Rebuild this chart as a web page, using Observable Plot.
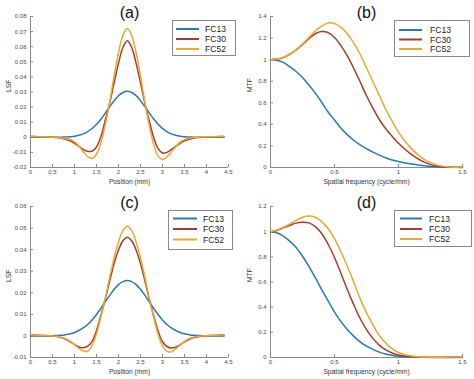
<!DOCTYPE html>
<html><head><meta charset="utf-8">
<script src="https://cdn.jsdelivr.net/npm/d3@7"></script>
<script src="https://cdn.jsdelivr.net/npm/@observablehq/plot@0.6"></script>
<style>
body{margin:0;background:#fff;}
#root{position:relative;width:474px;height:379px;overflow:hidden;font-family:"Liberation Sans",Arial,sans-serif;}
.panel{position:absolute;}
.legend{position:absolute;}
</style></head><body><div id="root"></div>
<script>
const series = ["FC13", "FC30", "FC52"];
const colors = ["#2a78b2", "#a93a2c", "#e9a92e"];
const titles = ["(a)", "(b)", "(c)", "(d)"];
const xLabelLSF = "Position (mm)";
const xLabelMTF = "Spatial frequency (cycle/mm)";
const yLabelLSF = "LSF";
const yLabelMTF = "MTF";

const xTicksLSF = [0, 0.5, 1, 1.5, 2, 2.5, 3, 3.5, 4, 4.5];
const xTicksMTF = [0, 0.5, 1, 1.5];
const yTicksA = [-0.02, -0.01, 0, 0.01, 0.02, 0.03, 0.04, 0.05, 0.06, 0.07, 0.08];
const yTicksB = [0, 0.2, 0.4, 0.6, 0.8, 1, 1.2, 1.4];
const yTicksC = [-0.01, 0, 0.01, 0.02, 0.03, 0.04, 0.05, 0.06];
const yTicksD = [0, 0.2, 0.4, 0.6, 0.8, 1, 1.2];

const position = [0,0.1,0.2,0.3,0.4,0.5,0.6,0.7,0.8,0.9,1,1.1,1.2,1.3,1.4,1.5,1.6,1.7,1.8,1.9,2,2.1,2.2,2.3,2.4,2.5,2.6,2.7,2.8,2.9,3,3.1,3.2,3.3,3.4,3.5,3.6,3.7,3.8,3.9,4,4.1,4.2,4.3,4.4];

const lsfA_FC13 = [0,0,0,0,0,0,0,0.0001,0.0002,0.0004,0.0007,0.0013,0.0023,0.0038,0.0058,0.0086,0.0120,0.0160,0.0202,0.0242,0.0275,0.0297,0.0305,
  0.0297,0.0276,0.0243,0.0203,0.0161,0.0121,0.0087,0.0059,0.0038,0.0023,0.0013,0.0007,0.0004,0.0002,0.0001,0,0,0,0,0,0,0];
const lsfA_FC30 = [0.0005,0.0005,0.0004,0.0003,0.0002,0,-0.0002,-0.0006,-0.0013,-0.0024,-0.0040,-0.0060,-0.0080,-0.0093,-0.0092,-0.0064,0.0003,0.0115,0.0228,0.0360,0.0490,0.0595,0.0640,
  0.0595,0.0490,0.0360,0.0225,0.0108,-0.0002,-0.0075,-0.0104,-0.0100,-0.0082,-0.0060,-0.0040,-0.0024,-0.0013,-0.0006,-0.0002,0,0.0002,0.0003,0.0004,0.0005,0.0005];
const lsfA_FC52 = [0.0005,0.0005,0.0004,0.0003,0.0002,0.0001,-0.0001,-0.0004,-0.0008,-0.0014,-0.0030,-0.0058,-0.0095,-0.0128,-0.0140,-0.0112,-0.0040,0.0085,0.0235,0.0405,0.0560,0.0675,0.0720,
  0.0675,0.0560,0.0405,0.0232,0.0078,-0.0048,-0.0125,-0.0147,-0.0130,-0.0098,-0.0062,-0.0032,-0.0015,-0.0006,-0.0002,0.0001,0.0002,0.0003,0.0004,0.0004,0.0005,0.0005];

const lsfC_FC13 = [0,0,0,0,0,0.0001,0.0002,0.0003,0.0006,0.0010,0.0016,0.0025,0.0037,0.0053,0.0074,0.0099,0.0128,0.0158,0.0188,0.0216,0.0238,0.0252,0.0257,
  0.0252,0.0238,0.0216,0.0188,0.0158,0.0128,0.0099,0.0074,0.0053,0.0037,0.0025,0.0016,0.0010,0.0006,0.0003,0.0002,0.0001,0,0,0,0,0];
const lsfC_FC30 = [0.0004,0.0004,0.0003,0.0002,0.0001,0,-0.0003,-0.0008,-0.0016,-0.0027,-0.0040,-0.0051,-0.0055,-0.0047,-0.0025,0.0025,0.0095,0.0172,0.0255,0.0335,0.0398,0.0441,0.0458,
  0.0441,0.0398,0.0335,0.0255,0.0170,0.0093,0.0023,-0.0027,-0.0049,-0.0056,-0.0052,-0.0041,-0.0028,-0.0017,-0.0009,-0.0004,-0.0001,0.0001,0.0002,0.0003,0.0004,0.0004];
const lsfC_FC52 = [0.0004,0.0004,0.0003,0.0002,0.0001,0,-0.0002,-0.0006,-0.0013,-0.0025,-0.0040,-0.0058,-0.0070,-0.0071,-0.0045,0.0010,0.0088,0.0175,0.0272,0.0362,0.0436,0.0488,0.0508,
  0.0488,0.0436,0.0362,0.0272,0.0173,0.0085,0.0008,-0.0047,-0.0072,-0.0074,-0.0060,-0.0042,-0.0025,-0.0013,-0.0006,-0.0002,0,0.0001,0.0002,0.0003,0.0004,0.0004];

const frequency = [0,0.05,0.1,0.15,0.2,0.25,0.3,0.35,0.4,0.45,0.5,0.55,0.6,0.65,0.7,0.75,0.8,0.85,0.9,0.95,1,1.1,1.2,1.3,1.4,1.5];

const mtfB_FC13 = [1,0.995,0.975,0.935,0.89,0.835,0.765,0.69,0.605,0.515,0.44,0.365,0.305,0.253,0.21,0.175,0.142,0.115,0.09,0.07,0.055,0.032,0.017,0.006,0.002,0.001];
const mtfB_FC30 = [1,1.005,1.02,1.05,1.09,1.14,1.195,1.24,1.26,1.25,1.205,1.13,1.035,0.92,0.795,0.665,0.55,0.445,0.36,0.29,0.225,0.122,0.05,0.012,0.004,0.004];
const mtfB_FC52 = [1,1.005,1.02,1.05,1.09,1.145,1.205,1.265,1.31,1.34,1.335,1.30,1.24,1.155,1.05,0.925,0.795,0.67,0.54,0.43,0.325,0.175,0.075,0.022,0.005,0.004];

const mtfD_FC13 = [1,0.992,0.965,0.925,0.875,0.805,0.725,0.635,0.54,0.45,0.36,0.285,0.223,0.17,0.124,0.09,0.065,0.043,0.028,0.017,0.009,0.003,0.001,0,0,0];
const mtfD_FC30 = [1,1.01,1.03,1.05,1.068,1.075,1.07,1.04,0.985,0.9,0.795,0.67,0.54,0.42,0.31,0.222,0.152,0.098,0.06,0.036,0.02,0.005,0.002,0.002,0.003,0.003];
const mtfD_FC52 = [1,1.012,1.035,1.06,1.09,1.115,1.125,1.115,1.08,1.025,0.945,0.84,0.725,0.6,0.468,0.355,0.26,0.175,0.115,0.07,0.04,0.012,0.004,0.002,0.003,0.003];

function rows(xs, ys) {
  const out = [];
  ys.forEach((arr, i) => arr.forEach((v, j) => out.push({x: xs[j], y: v, s: series[i]})));
  return out;
}

const FONT = '"Liberation Sans", Arial, sans-serif';
const AXIS = "#8a8a8a";

function panel(cfg) {
  const plot = Plot.plot({
    width: 237, height: 190,
    marginLeft: cfg.ml, marginRight: cfg.mr, marginTop: 16, marginBottom: 23,
    style: {fontFamily: FONT, fontSize: "6px", color: "#4a4a4a", background: "transparent", overflow: "visible"},
    x: {domain: cfg.xDomain},
    y: {domain: cfg.yDomain},
    color: {domain: series, range: colors},
    marks: [
      Plot.ruleX([cfg.xDomain[0]], {stroke: AXIS, strokeWidth: 1}),
      Plot.ruleY([cfg.yDomain[0]], {stroke: AXIS, strokeWidth: 1}),
      Plot.axisX(cfg.xTicks, {tickSize: -3, tickPadding: 5.5, tickFormat: d => String(d), label: null, stroke: AXIS}),
      Plot.axisY(cfg.yTicks, {tickSize: -3, tickPadding: 7, tickFormat: d => String(d), label: null, stroke: AXIS}),
      Plot.line(cfg.data, {x: "x", y: "y", z: "s", stroke: "s", curve: "catmull-rom", strokeWidth: 1.5}),
      Plot.text([cfg.title], {text: d => d, frameAnchor: "top", lineAnchor: "bottom", dy: 1, fontSize: 16, fill: "#111"}),
      Plot.text([cfg.xLabel], {text: d => d, frameAnchor: "bottom", lineAnchor: "middle", dy: 14, fontSize: 6.7, fill: "#333"}),
      Plot.text([cfg.yLabel], {text: d => d, frameAnchor: "left", rotate: -90, lineAnchor: "middle", dx: cfg.ylDx, fontSize: 6.7, fill: "#333"})
    ]
  });
  const div = document.createElement("div");
  div.className = "panel";
  div.style.left = cfg.left + "px";
  div.style.top = cfg.top + "px";
  div.appendChild(plot);
  document.getElementById("root").appendChild(div);
}

function legend(cfg) {
  const svg = d3.select("#root").append("svg").attr("class", "legend")
    .style("left", cfg.left + "px").style("top", cfg.top + "px")
    .attr("width", cfg.w).attr("height", cfg.h);
  svg.append("rect").attr("x", 0.5).attr("y", 0.5).attr("width", cfg.w - 1).attr("height", cfg.h - 1)
    .attr("fill", "#fff").attr("stroke", "#8a8a8a").attr("stroke-width", 1);
  series.forEach((s, i) => {
    const y = cfg.rows[i];
    svg.append("line").attr("x1", cfg.l1).attr("x2", cfg.l2).attr("y1", y).attr("y2", y)
      .attr("stroke", colors[i]).attr("stroke-width", 2);
    svg.append("text").attr("x", cfg.tx).attr("y", y).attr("dy", "0.35em")
      .attr("font-family", FONT).attr("font-size", 8.6).attr("fill", "#222").text(s);
  });
}

panel({left: 0, top: 0, ml: 30, mr: 9, xDomain: [0, 4.5], yDomain: [-0.02, 0.08], xTicks: xTicksLSF, yTicks: yTicksA,
  data: rows(position, [lsfA_FC13, lsfA_FC30, lsfA_FC52]), title: titles[0], xLabel: xLabelLSF, yLabel: yLabelLSF, ylDx: -22});
panel({left: 237, top: 0, ml: 33, mr: 12, xDomain: [0, 1.5], yDomain: [0, 1.4], xTicks: xTicksMTF, yTicks: yTicksB,
  data: rows(frequency, [mtfB_FC13, mtfB_FC30, mtfB_FC52]), title: titles[1], xLabel: xLabelMTF, yLabel: yLabelMTF, ylDx: -21});
panel({left: 0, top: 190, ml: 30, mr: 9, xDomain: [0, 4.5], yDomain: [-0.01, 0.06], xTicks: xTicksLSF, yTicks: yTicksC,
  data: rows(position, [lsfC_FC13, lsfC_FC30, lsfC_FC52]), title: titles[2], xLabel: xLabelLSF, yLabel: yLabelLSF, ylDx: -22});
panel({left: 237, top: 190, ml: 33, mr: 12, xDomain: [0, 1.5], yDomain: [0, 1.2], xTicks: xTicksMTF, yTicks: yTicksD,
  data: rows(frequency, [mtfD_FC13, mtfD_FC30, mtfD_FC52]), title: titles[3], xLabel: xLabelMTF, yLabel: yLabelMTF, ylDx: -21});

legend({left: 172, top: 20, w: 64, h: 36, rows: [9, 19, 29], l1: 4, l2: 27, tx: 33});
legend({left: 394, top: 20, w: 76, h: 37, rows: [10, 19.5, 29], l1: 5, l2: 28, tx: 36});
legend({left: 168, top: 210, w: 65, h: 40, rows: [8.5, 19, 29.5], l1: 5, l2: 29, tx: 35});
legend({left: 394, top: 210, w: 78, h: 37, rows: [8.5, 19, 29], l1: 6, l2: 28, tx: 35});
</script></body></html>
